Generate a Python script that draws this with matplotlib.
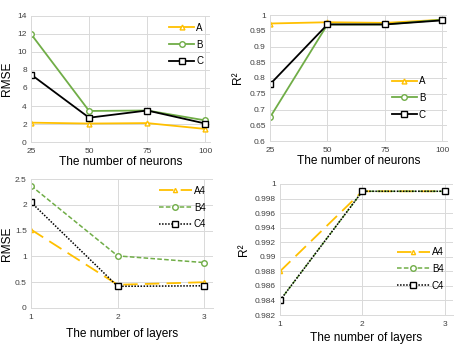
import matplotlib
matplotlib.use("Agg")
import matplotlib.pyplot as plt
from matplotlib.ticker import FuncFormatter

plt.rcParams['font.family'] = ['Liberation Sans', 'DejaVu Sans']

neurons = [25, 50, 75, 100]
rmse_A = [2.15, 2.05, 2.1, 1.45]
rmse_B = [12.0, 3.45, 3.5, 2.4]
rmse_C = [7.5, 2.7, 3.5, 2.05]
r2_A = [0.973, 0.977, 0.975, 0.985]
r2_B = [0.675, 0.970, 0.970, 0.985]
r2_C = [0.780, 0.970, 0.970, 0.983]

layers = [1, 2, 3]
rmse_A4 = [1.52, 0.45, 0.50]
rmse_B4 = [2.37, 1.01, 0.88]
rmse_C4 = [2.05, 0.42, 0.43]
r2_A4 = [0.988, 0.999, 0.999]
r2_B4 = [0.984, 0.999, 0.999]
r2_C4 = [0.984, 0.999, 0.999]

YEL = '#FFC000'
GRN = '#70AD47'
BLK = '#000000'

W, H = 474, 344
fig = plt.figure(figsize=(W / 100, H / 100), dpi=100)

def ax_at(l, t, r, b):
    return fig.add_axes([l / W, 1 - b / H, (r - l) / W, (b - t) / H])

def fmt(v, p):
    s = ('%.3f' % v).rstrip('0').rstrip('.')
    return s

LBL = 8.6

def style(ax, ylab_x):
    ax.grid(True, color='#d9d9d9', lw=0.7)
    ax.set_axisbelow(True)
    for s in ['top', 'right']:
        ax.spines[s].set_visible(False)
    for s in ['left', 'bottom']:
        ax.spines[s].set_color('#d9d9d9')
        ax.spines[s].set_linewidth(0.7)
    ax.tick_params(length=0, labelsize=6, colors='#404040')
    ax.tick_params(axis='y', pad=3)
    ax.tick_params(axis='x', pad=4)
    ax.yaxis.set_major_formatter(FuncFormatter(fmt))
    ax.yaxis.set_label_coords(ylab_x, 0.5)

# Panel 1
ax1 = ax_at(31, 16, 210, 142)
ax1.plot(neurons, rmse_A, color=YEL, lw=1.3, marker='^', ms=3.5, mfc='white', mec=YEL, label='A')
ax1.plot(neurons, rmse_B, color=GRN, lw=1.3, marker='o', ms=4, mfc='white', mec=GRN, label='B')
ax1.plot(neurons, rmse_C, color=BLK, lw=1.3, marker='s', ms=4, mfc='white', mec=BLK, label='C')
ax1.set_xlim(25, 102)
ax1.set_ylim(0, 14)
ax1.set_xticks(neurons)
ax1.set_yticks(range(0, 15, 2))
ax1.set_xlabel('The number of neurons', fontsize=LBL, labelpad=1)
ax1.set_ylabel('RMSE', fontsize=LBL)
style(ax1, -0.10)
ax1.legend(loc='upper right', frameon=False, fontsize=7, handlelength=2.6,
           handletextpad=0.2, labelspacing=0.7, borderaxespad=0.3)

# Panel 2
ax2 = ax_at(270, 15, 447, 141)
ax2.plot(neurons, r2_A, color=YEL, lw=1.3, marker='^', ms=3.5, mfc='white', mec=YEL, label='A')
ax2.plot(neurons, r2_B, color=GRN, lw=1.3, marker='o', ms=4, mfc='white', mec=GRN, label='B')
ax2.plot(neurons, r2_C, color=BLK, lw=1.3, marker='s', ms=4, mfc='white', mec=BLK, label='C')
ax2.set_xlim(25, 102)
ax2.set_ylim(0.6, 1.0)
ax2.set_xticks(neurons)
ax2.set_yticks([0.6 + 0.05 * i for i in range(9)])
ax2.set_xlabel('The number of neurons', fontsize=LBL, labelpad=1)
ax2.set_ylabel('R²', fontsize=LBL)
style(ax2, -0.147)
ax2.legend(loc='lower right', bbox_to_anchor=(0.93, 0.1), frameon=False, fontsize=7,
           handlelength=2.6, handletextpad=0.2, labelspacing=0.7)

# Panel 3
ax3 = ax_at(31, 179, 213, 308)
ax3.plot(layers, rmse_A4, color=YEL, lw=1.3, ls=(0, (8, 4)), marker='^', ms=3, mfc='white', mec=YEL, label='A4')
ax3.plot(layers, rmse_B4, color=GRN, lw=1.1, ls=(0, (3, 1.5)), marker='o', ms=4, mfc='white', mec=GRN, label='B4')
ax3.plot(layers, rmse_C4, color=BLK, lw=1.1, ls=(0, (1, 1)), marker='s', ms=4, mfc='white', mec=BLK, label='C4')
ax3.set_xlim(1, 3.1)
ax3.set_ylim(0, 2.5)
ax3.set_xticks(layers)
ax3.set_yticks([0, 0.5, 1, 1.5, 2, 2.5])
ax3.set_xlabel('The number of layers', fontsize=LBL, labelpad=5)
ax3.set_ylabel('RMSE', fontsize=LBL)
style(ax3, -0.099)
ax3.legend(loc='upper right', frameon=False, fontsize=7, handlelength=3.4,
           handletextpad=0.2, labelspacing=0.7, borderaxespad=0.3)

# Panel 4
ax4 = ax_at(280, 184, 453, 315)
ax4.plot(layers, r2_A4, color=YEL, lw=1.3, ls=(0, (8, 4)), marker='^', ms=3, mfc='white', mec=YEL, label='A4')
ax4.plot(layers, r2_B4, color=GRN, lw=1.1, ls=(0, (3, 1.5)), marker='o', ms=4, mfc='white', mec=GRN, label='B4')
ax4.plot(layers, r2_C4, color=BLK, lw=1.1, ls=(0, (1, 1)), marker='s', ms=4, mfc='white', mec=BLK, label='C4')
ax4.set_xlim(1, 3.1)
ax4.set_ylim(0.982, 1.0)
ax4.set_xticks(layers)
ax4.set_yticks([0.982 + 0.002 * i for i in range(10)])
ax4.set_xlabel('The number of layers', fontsize=LBL, labelpad=3)
ax4.set_ylabel('R²', fontsize=LBL)
style(ax4, -0.173)
ax4.legend(loc='lower right', bbox_to_anchor=(1.0, 0.12), frameon=False, fontsize=7,
           handlelength=3.4, handletextpad=0.2, labelspacing=0.7)

fig.savefig('out.png', dpi=100)
